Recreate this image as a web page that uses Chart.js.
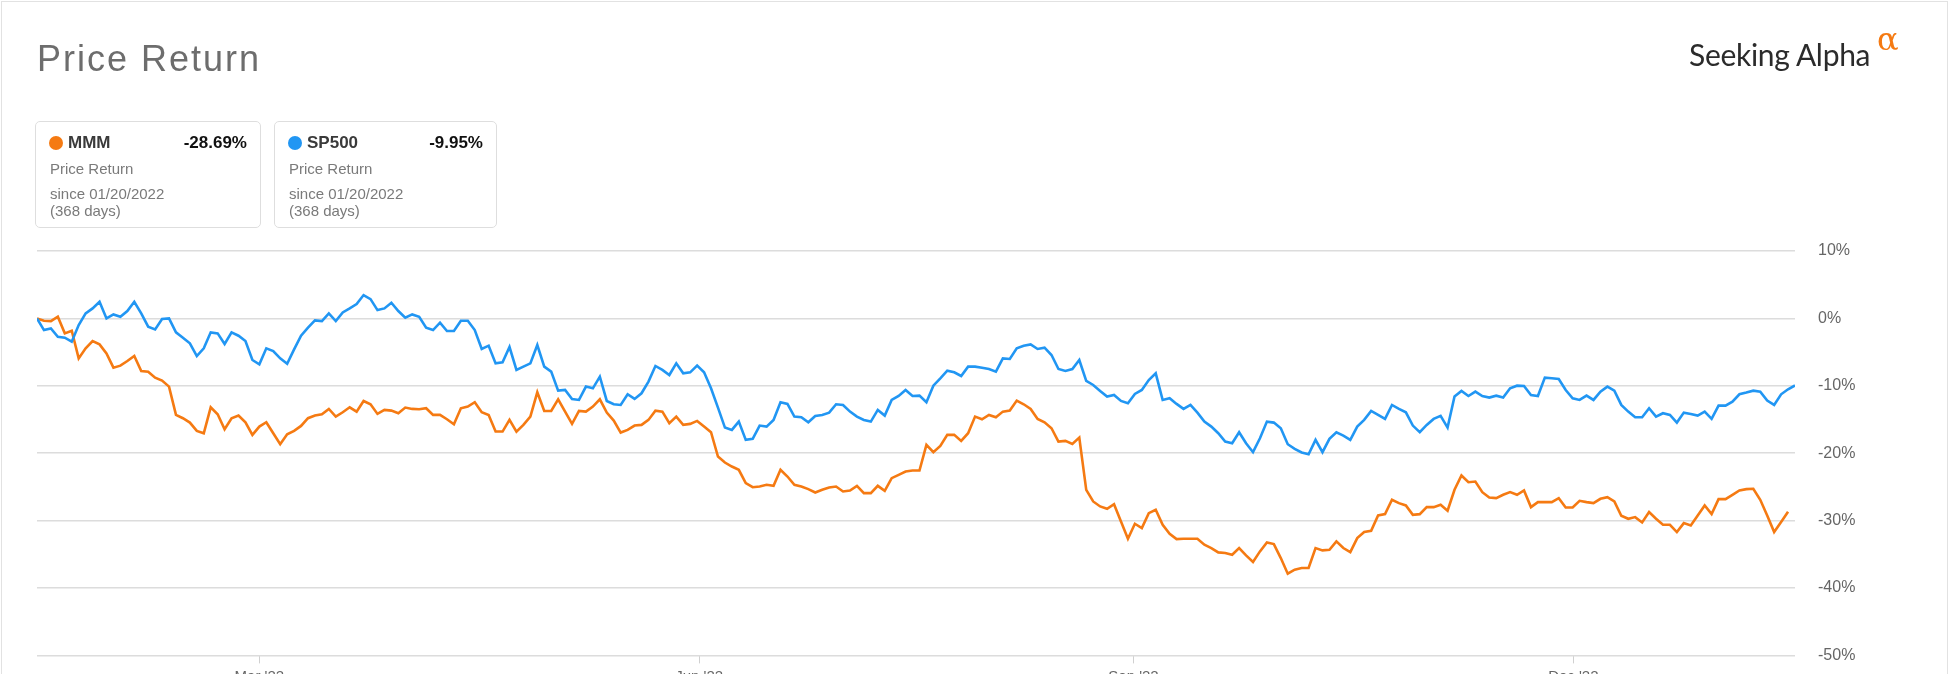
<!DOCTYPE html>
<html>
<head>
<meta charset="utf-8">
<script src="https://cdn.jsdelivr.net/npm/chart.js@4.4.1/dist/chart.umd.min.js"></script>
<style>
  body { margin: 0; width: 1950px; height: 674px; overflow: hidden; background: #fff; font-family: Arial, "Liberation Sans", sans-serif; }
  #frame { position: absolute; left: 1px; top: 1px; width: 1945px; height: 700px; border: 1px solid #e2e2e2; }
  #chart { position: absolute; left: 0; top: 0; }
  .title { position: absolute; left: 37px; top: 38px; font-size: 36px; letter-spacing: 2px; color: #6d6d6d; }
  .logo { position: absolute; left: 1689px; top: 36px; font-family: Lato, "Open Sans", sans-serif; font-size: 30px; color: #2b2b2b; letter-spacing: -0.3px; }
  .alpha { position: absolute; left: 1877px; top: 20px; font-family: "DejaVu Serif", serif; font-size: 32px; color: #f57a12; }
  .card { position: absolute; top: 121px; height: 107px; border: 1px solid #dedede; border-radius: 5px; box-sizing: border-box; }
  .card .dot { position: absolute; left: 13px; top: 14px; width: 14px; height: 14px; border-radius: 50%; }
  .card .name { position: absolute; left: 32px; top: 11px; font-size: 17px; font-weight: bold; color: #3a3a3a; }
  .card .pct { position: absolute; right: 13px; top: 11px; font-size: 17px; font-weight: bold; color: #111; }
  .card .sub { position: absolute; left: 14px; top: 38px; font-size: 15px; line-height: 17px; color: #7a7a7a; }
  .card .since { position: absolute; left: 14px; top: 63px; font-size: 15px; line-height: 17px; color: #7a7a7a; }
</style>
</head>
<body>
<div id="frame"></div>
<canvas id="chart" width="1950" height="688"></canvas>
<div class="title">Price Return</div>
<div class="logo">Seeking Alpha</div>
<div class="alpha">α</div>
<div class="card" style="left:35px; width:226px;">
  <div class="dot" style="background:#f57a12;"></div>
  <div class="name">MMM</div>
  <div class="pct">-28.69%</div>
  <div class="sub">Price Return</div>
  <div class="since">since 01/20/2022<br>(368 days)</div>
</div>
<div class="card" style="left:274px; width:223px;">
  <div class="dot" style="background:#2196f3;"></div>
  <div class="name">SP500</div>
  <div class="pct">-9.95%</div>
  <div class="sub">Price Return</div>
  <div class="since">since 01/20/2022<br>(368 days)</div>
</div>
<script>
// price return in %, one value per trading day from 01/20/2022
const mmmValues = [
  0, -0.35, -0.4, 0.25, -2.22, -1.83, -5.93, -4.44, -3.36, -3.85, -5.19, -7.31, -7.01, -6.32, -5.58, -7.8, -7.9, -8.79, -9.23, -10.12,
  -14.32, -14.81, -15.46, -16.69, -17.04, -13.19, -14.22, -16.44, -14.81, -14.42, -15.41, -17.28, -16.05, -15.41, -17.04, -18.67, -17.19, -16.69, -15.95, -14.81,
  -14.42, -14.22, -13.43, -14.57,
  -13.93, -13.19, -13.83, -12.25, -12.74, -14.17, -13.58, -13.68, -14.07, -13.23, -13.43, -13.48, -13.33, -14.32, -14.32, -14.96, -15.7, -13.33, -13.09, -12.44,
  -13.93, -14.32, -16.79, -16.79, -15.06, -16.79, -15.8, -14.57, -10.96, -13.73, -13.73, -12.0, -13.83, -15.65, -13.73, -13.83, -13.09, -12.0, -13.98, -15.16,
  -16.94, -16.54,
  -15.9, -15.8, -15.06, -13.68, -13.83, -15.56, -14.57, -15.8, -15.65, -15.21, -16.05, -16.89, -20.49, -21.38, -21.98, -22.47, -24.44, -25.04, -24.94, -24.69,
  -24.84, -22.47, -23.46, -24.69, -24.94, -25.33, -25.83, -25.43, -25.09, -24.94, -25.68, -25.53, -24.84, -25.93, -25.93, -24.84, -25.58, -23.7, -23.21, -22.72,
  -22.57, -22.57,
  -18.77, -19.85, -18.91, -17.28, -17.28, -18.17, -17.04, -14.57, -14.96, -14.32, -14.67, -13.83, -13.68, -12.2, -12.74, -13.43, -14.91, -15.41, -16.3, -18.27,
  -18.17, -18.62, -17.68, -25.43, -27.16, -27.9, -28.25, -27.56, -30.12, -32.69, -30.47, -31.11, -28.89, -28.4, -30.62, -31.95, -32.74, -32.69, -32.69, -32.69,
  -33.58, -34.07,
  -34.72, -34.81, -35.06, -34.07, -35.16, -36.15, -34.57, -33.23, -33.48, -35.56, -37.88, -37.28, -37.04, -37.04, -34.07, -34.42, -34.32, -33.09, -34.07, -34.67,
  -32.59, -31.7, -31.51, -29.23, -29.04, -26.91, -27.41, -27.75, -29.14, -29.04, -28.0, -28.0, -27.65, -28.54, -25.43, -23.31, -24.3, -24.2, -25.78, -26.57,
  -26.67, -26.17,
  -25.78, -26.17, -25.53, -28.0, -27.26, -27.26, -27.26, -26.67, -28.05, -28.05, -27.06, -27.26, -27.41, -26.77, -26.52, -27.16, -29.28, -29.73, -29.48, -30.27,
  -28.74, -29.73, -30.62, -30.62, -31.7, -30.37, -30.72, -29.23, -27.75, -29.04, -26.81, -26.81, -26.17, -25.53, -25.33, -25.28, -26.91, -29.23, -31.7, -30.22,
  -28.69
];

const sp500Values = [
  0, -1.73, -1.48, -2.72, -2.86, -3.46, -0.99, 0.74, 1.48, 2.47, 0, 0.59, 0.25, 1.09, 2.47, 0.74, -1.23, -1.63, -0.1, 0,
  -2.07, -2.86, -3.7, -5.58, -4.44, -2.07, -2.22, -3.8, -2.07, -2.57, -3.36, -6.17, -6.81, -4.44, -4.84, -5.93, -6.72, -4.59, -2.57, -1.38,
  -0.3, -0.4, 0.74, -0.4,
  0.89, 1.48, 2.12, 3.46, 2.86, 1.23, 1.48, 2.32, 1.09, 0.1, 0.59, 0.25, -1.38, -1.73, -0.64, -1.88, -1.88, -0.35, -0.35, -1.73,
  -4.54, -4.05, -6.67, -6.52, -4.25, -7.65, -7.16, -6.67, -3.95, -7.16, -7.9, -10.72, -10.62, -11.95, -12.1, -10.12, -10.37, -8.64, -12.25, -12.74,
  -12.84, -11.26,
  -11.95, -11.11, -9.38, -7.06, -7.65, -8.4, -6.67, -8.15, -8.0, -7.01, -8.0, -10.37, -13.23, -16.2, -16.54, -15.31, -18.02, -17.88, -15.9, -16.05,
  -15.06, -12.44, -12.69, -14.57, -14.67, -15.41, -14.47, -14.32, -13.98, -12.74, -12.84, -13.83, -14.57, -15.06, -15.31, -13.58, -14.42, -12.1, -11.51, -10.62,
  -11.51, -11.46,
  -12.44, -9.98, -8.89, -7.75, -8.0, -8.54, -7.16, -7.16, -7.31, -7.51, -7.9, -5.93, -6.02, -4.44, -4.05, -3.85, -4.54, -4.35, -5.43, -7.51,
  -7.8, -7.51, -6.17, -9.28, -9.88, -10.77, -11.6, -11.36, -12.25, -12.59, -11.21, -10.62, -9.14, -8.15, -12.1, -11.85, -12.69, -13.43, -12.84, -13.98,
  -15.31, -16.05,
  -17.04, -18.27, -18.52, -16.89, -18.52, -19.85, -17.78, -15.31, -15.46, -16.3, -18.67, -19.36, -19.9, -20.15, -18.02, -19.85, -17.88, -16.89, -17.38, -18.02,
  -16.05, -15.06, -13.73, -14.32, -14.91, -12.84, -13.43, -13.93, -15.9, -16.89, -15.8, -14.91, -14.47, -16.2, -11.6, -10.77, -11.51, -10.86, -11.51, -11.75,
  -11.46, -11.75,
  -10.37, -9.98, -10.02, -11.36, -11.51, -8.79, -8.89, -8.99, -10.62, -11.85, -12.1, -11.46, -12.1, -10.86, -10.12, -10.72, -12.84, -13.83, -14.67, -14.67,
  -13.33, -14.57, -14.07, -14.32, -15.46, -13.98, -14.17, -14.42, -13.83, -14.91, -12.94, -12.94, -12.35, -11.26, -11.01, -10.72, -10.86, -12.2, -12.84, -11.26,
  -10.52, -9.95
];

// x positions (trading-day index) of the month ticks
const monthTicks = [32, 95.3, 157.8, 221.1];
const monthLabels = ["Mar '22", "Jun '22", "Sep '22", "Dec '22"];
const yTicks = [10, 0, -10, -20, -30, -40, -50];

const toPoints = (values) => values.map((v, i) => ({ x: i, y: v }));

const ctx = document.getElementById("chart");

new Chart(ctx, {
  type: "line",
  data: {
    datasets: [
      {
        label: "SP500",
        data: toPoints(sp500Values),
        borderColor: "#2196f3",
        borderWidth: 2.6,
        pointRadius: 0,
        tension: 0,
        fill: false,
      },
      {
        label: "MMM",
        data: toPoints(mmmValues),
        borderColor: "#f57a12",
        borderWidth: 2.6,
        pointRadius: 0,
        tension: 0,
        fill: false,
      },
    ],
  },
  options: {
    responsive: false,
    animation: false,
    layout: {
      padding: { left: 37, top: 251, right: 0, bottom: 0 },
    },
    plugins: {
      legend: { display: false },
      tooltip: { enabled: false },
    },
    scales: {
      x: {
        type: "linear",
        min: 0,
        max: sp500Values.length - 1,
        afterBuildTicks: (axis) => {
          axis.ticks = monthTicks.map((v) => ({ value: v }));
        },
        afterFit: (scale) => {
          scale.height = 20;
        },
        ticks: {
          autoSkip: false,
          maxRotation: 0,
          padding: 4,
          color: "#666",
          font: { family: "Arial", size: 15 },
          callback: (value, idx) => monthLabels[idx],
        },
        grid: {
          drawOnChartArea: false,
          drawTicks: true,
          tickLength: 8,
          color: "#d0d0d0",
        },
        border: { display: false },
      },
      y: {
        position: "right",
        min: -50,
        max: 10,
        afterBuildTicks: (axis) => {
          axis.ticks = yTicks.map((v) => ({ value: v }));
        },
        afterFit: (scale) => {
          scale.width = 155;
        },
        ticks: {
          padding: 23,
          color: "#666",
          font: { family: "Arial", size: 16 },
          callback: (value) => `${value}%`,
        },
        grid: {
          drawTicks: false,
          color: "#dcdcdc",
          lineWidth: 1.5,
        },
        border: { display: false },
      },
    },
  },
});
</script>
</body>
</html>
